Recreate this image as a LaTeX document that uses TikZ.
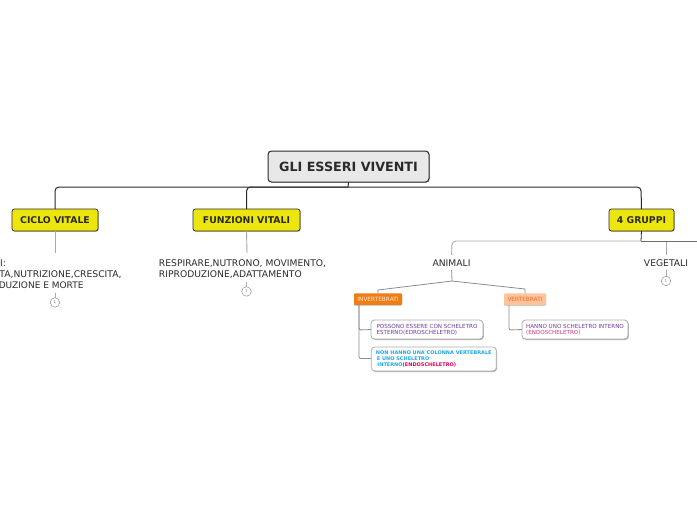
\documentclass[tikz,border=0pt]{standalone}
\usepackage{fontspec}
\setmainfont{DejaVu Sans}
\definecolor{darkline}{HTML}{2A2A2A}
\definecolor{grayline}{HTML}{A8A8A8}
\definecolor{midline}{HTML}{8C8C8C}
\definecolor{rightline}{HTML}{6E6E6E}
\definecolor{yel}{HTML}{EDE60E}
\definecolor{rootfill}{HTML}{E8E8E8}
\definecolor{orangeA}{HTML}{F07D14}
\definecolor{orangeB}{HTML}{FFC49C}
\definecolor{orangeT}{HTML}{FF6A2A}
\definecolor{lightT}{HTML}{FFEBDD}
\definecolor{purp}{HTML}{7039A0}
\definecolor{pinkT}{HTML}{DE2F88}
\definecolor{blueT}{HTML}{1EA7EE}
\definecolor{crim}{HTML}{E6004C}
\usetikzlibrary{shadows}
\tikzset{
  x=1pt,y=-1pt,
  base/.style={inner sep=0pt,outer sep=0pt,align=center,text=darkline},
  rootbox/.style={base,draw=darkline,line width=1pt,fill=rootfill,rounded corners=3.5pt,font=\bfseries\fontsize{12.7}{15}\selectfont,drop shadow={shadow xshift=0.7pt,shadow yshift=-0.7pt,fill=gray!70,opacity=1}},
  yelbox/.style={base,draw=darkline,line width=0.7pt,fill=yel,rounded corners=2.5pt,font=\bfseries\fontsize{9.3}{11}\selectfont,drop shadow={shadow xshift=0.7pt,shadow yshift=-0.7pt,fill=gray!70,opacity=1}},
  plain/.style={base,align=left,font=\fontsize{9.2}{11}\selectfont},
  tagbox/.style={base,rounded corners=1pt,font=\fontsize{5.8}{7}\selectfont,drop shadow={shadow xshift=0pt,shadow yshift=-0.9pt,fill=gray!60,opacity=1}},
  whitebox/.style={base,draw=gray!65,line width=0.8pt,fill=white,rounded corners=3.5pt,align=left,font=\fontsize{5.6}{6.1}\selectfont,drop shadow={shadow xshift=0.8pt,shadow yshift=-1pt,fill=gray!60,opacity=1}},
  badge/.style={circle,draw=gray,line width=0.4pt,fill=white,minimum size=9.5pt,inner sep=0pt,font=\fontsize{4}{4}\selectfont,text=gray},
  dk/.style={draw=darkline,line width=1pt},
  gr/.style={draw=grayline,line width=0.9pt},
  md/.style={draw=midline,line width=0.8pt},
  rt/.style={draw=rightline,line width=0.9pt}
}
\begin{document}
\begin{tikzpicture}
\useasboundingbox (0,0) rectangle (697,520);
\clip (0,0) rectangle (697,520);
\coordinate (bus) at (348,187);
\coordinate (busR) at (641,187);
\coordinate (lowbus) at (641,241);
\coordinate (lowL) at (452,241);
\coordinate (lowEnd) at (697,241);
\coordinate (lowV) at (666,241);
\coordinate (fork) at (452,281);
\coordinate (bendL) at (378,290);
\coordinate (bendR) at (525,289);
\coordinate (cicloEnd) at (55,253);
\coordinate (funzEnd) at (247,253);
\coordinate (a1) at (359,330);
\coordinate (a2) at (359,358.5);
\coordinate (a3) at (509,330);
%
\node[rootbox,minimum width=161pt,minimum height=31pt] (root) at (348.5,166.5) {GLI ESSERI VIVENTI};
\node[yelbox,minimum width=86pt,minimum height=22pt] (ciclo) at (55,220) {CICLO VITALE};
\node[yelbox,minimum width=107pt,minimum height=22pt] (funz) at (246.5,220) {FUNZIONI VITALI};
\node[yelbox,minimum width=65pt,minimum height=22pt] (grup) at (641.5,220) {4 GRUPPI};
\node[plain,anchor=east] (t1a) at (6,263.5) {I:};
\node[plain,anchor=east] (t1b) at (121.5,274.5) {TA,NUTRIZIONE,CRESCITA,};
\node[plain,anchor=east,font=\fontsize{9}{11}\selectfont] (t1c) at (83.5,285.5) {DUZIONE E MORTE};
\node[plain] (t2) at (242.5,269) {RESPIRARE,NUTRONO, MOVIMENTO,\\RIPRODUZIONE,ADATTAMENTO};
\node[plain] (anim) at (451.5,263.5) {ANIMALI};
\node[plain] (veg) at (666,263.5) {VEGETALI};
\node[tagbox,fill=orangeA,text=lightT,minimum width=48pt,minimum height=11.5pt] (inv) at (378,299) {INVERTEBRATI};
\node[tagbox,fill=orangeB,text=orangeT,minimum width=42pt,minimum height=11.5pt] (ver) at (525,299) {VERTEBRATI};
\node[whitebox,text=purp,minimum width=112pt,minimum height=19pt] (b1) at (427,329.5) {POSSONO ESSERE CON SCHELETRO\\ESTERNO(EDROSCHELETRO)};
\node[whitebox,text=blueT,font=\bfseries\fontsize{5}{6.1}\selectfont,minimum width=125pt,minimum height=24pt] (b2) at (433.8,359) {NON HANNO UNA COLONNA VERTEBRALE\\\hspace{1pt}E UNO SCHELETRO\\\hspace{1.5pt}INTERNO{\color{crim}(ENDOSCHELETRO)}};
\node[whitebox,text=purp,minimum width=106pt,minimum height=19pt] (b3) at (575,329.5) {HANNO UNO SCHELETRO INTERNO\\{\color{pinkT}(ENDOSCHELETRO)}};
\node[badge] (c1) at (55,302.5) {1};
\node[badge] (c2) at (246.5,291.5) {1};
\node[badge] (c3) at (666,281) {1};
% connectors
\draw[dk] (root.south) -- (bus);
\draw[dk,rounded corners=4pt] (bus) -- (ciclo.north |- bus) -- (ciclo.north);
\draw[dk,rounded corners=4pt] (bus) -- (funz.north |- bus) -- (funz.north);
\draw[dk,rounded corners=4pt] (bus) -- (busR) -- (grup.north);
\draw[gr] (ciclo.south) -- (cicloEnd);
\draw[gr] (funz.south) -- (funzEnd);
\draw[gr] (c1.north) -- ++(0,-5);
\draw[gr] (c2.north) -- ++(0,-5);
\draw[gr] (c3.north) -- ++(0,-6);
\draw[gr,rounded corners=4pt,shorten >=5pt] (lowbus) -- (lowL) -- (anim.north);
\draw[gr,shorten >=5pt] (lowV) -- (veg.north);
\draw[rt] (lowbus) -- (lowEnd);
\draw[draw=darkline,line width=0.8pt] (grup.south) -- (lowbus);
\draw[md,shorten <=3pt] (anim.south) -- (fork);
\draw[md] (fork) -- (bendL) -- (inv.north);
\draw[md] (fork) -- (bendR) -- (ver.north);
\draw[md,rounded corners=2pt] (inv.south -| a1) -- (a1) -- (b1.west);
\draw[md,rounded corners=2pt] (inv.south -| a1) -- (a2) -- (b2.west |- a2);
\draw[md,rounded corners=2pt] (ver.south -| a3) -- (a3) -- (b3.west);
\end{tikzpicture}
\end{document}
